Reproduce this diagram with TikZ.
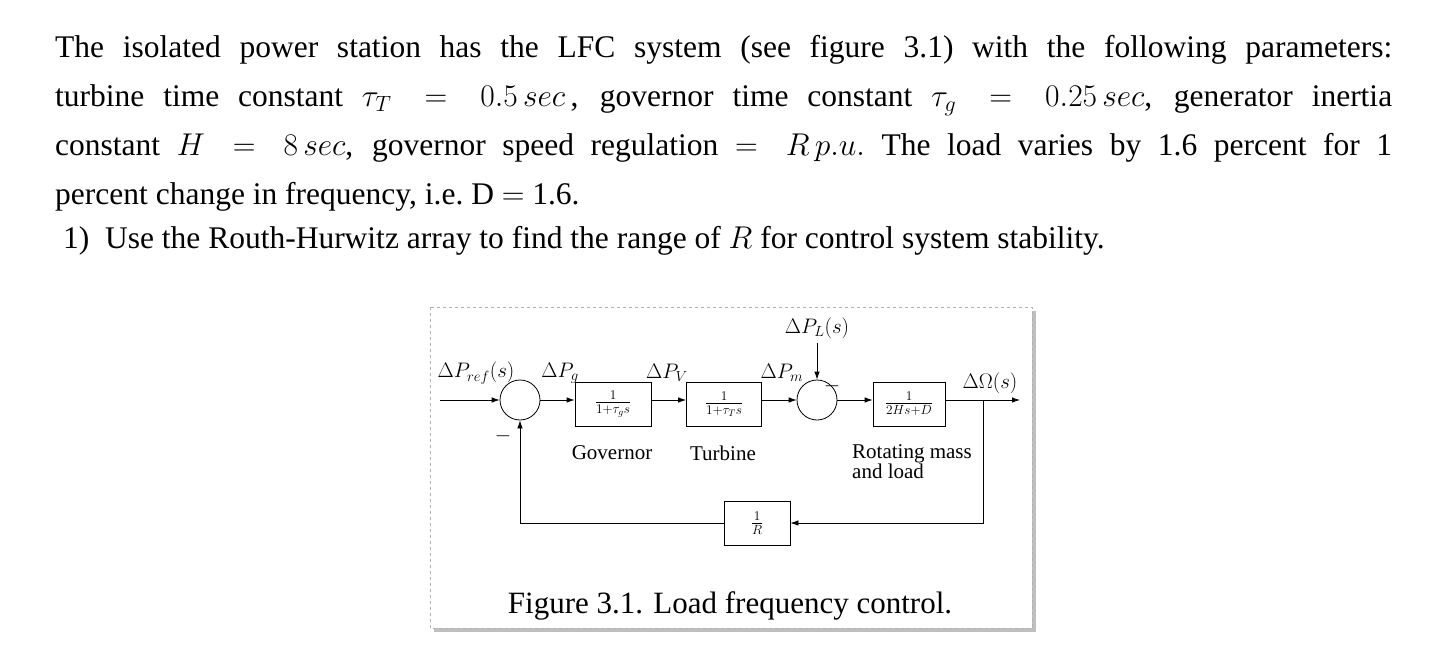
\documentclass[tikz,border=0pt]{standalone}
\usepackage{fix-cm}
\usepackage{fontspec}
\setmainfont{Liberation Serif}
\usetikzlibrary{arrows.meta}
\begin{document}
\begin{tikzpicture}[x=1pt,y=-1pt,
  blk/.style={draw,thick,minimum width=#1,minimum height=44,inner sep=0pt,font=\fontsize{19}{20}\selectfont},
  sum/.style={draw,thick,circle,minimum size=40,inner sep=0pt},
  ar/.style={thick,-{Latex[length=8,width=5.5]}},
  lbl/.style={font=\fontsize{21}{23}\selectfont}]
\useasboundingbox (0,0) rectangle (1450,668);
\node[anchor=north west,text width=1337,align=justify,inner sep=0,font=\fontsize{31.5}{49}\selectfont] (txt) at (55,35)
{The isolated power station has the LFC system (see figure 3.1) with the following parameters:\linebreak turbine time constant $\tau_T = 0.5\,sec$\,, governor time constant $\tau_g = 0.25\,sec$, generator inertia\linebreak constant $H = 8\,sec$, governor speed regulation $= R\,p.u.$ The load varies by 1.6 percent for 1\linebreak percent change in frequency, i.e.\ D $=$ 1.6.};
\node[anchor=north west,inner sep=0,font=\fontsize{31.5}{36}\selectfont] (q) at (55,226) {\ 1)\ \ Use the Routh-Hurwitz array to find the range of $R$ for control system stability.};
% frame
\fill[gray!50] (434,311) rectangle (1036,632);
\draw[gray!60,dashed,fill=white] (430,307) rectangle (1032,628);
\node[font=\fontsize{31}{34}\selectfont] (cap) at (730,606) {Figure 3.1. Load frequency control.};
% diagram
\node[sum] (s1) at (520,400) {};
\node[sum] (s2) at (817,400) {};
\node[blk=76] (gov) at (613,404) {$\frac{1}{1+\tau_g s}$};
\node[blk=75] (tur) at (724,404) {$\frac{1}{1+\tau_T s}$};
\node[blk=72] (rot) at (909,404) {$\frac{1}{2Hs+D}$};
\node[blk=66] (fb) at (757,523) {$\frac{1}{R}$};
\coordinate (in) at (440,400);
\coordinate (out) at (1020,400);
\coordinate (br) at (983,400);
\coordinate (pl) at (817,343);
\draw[ar] (in) -- (s1);
\draw[ar] (s1) -- (s1 -| gov.west);
\draw[ar] (s1 -| gov.east) -- (s1 -| tur.west);
\draw[ar] (s1 -| tur.east) -- (s2);
\draw[ar] (s2) -- (s2 -| rot.west);
\draw[ar] (s2 -| rot.east) -- (out);
\draw[ar] (pl) -- (s2);
\draw[ar] (br) |- (fb);
\draw[ar] (fb) -| (s1);
\node[lbl] (l1) at (476,373) {$\Delta P_{ref}(s)$};
\node[lbl] (l2) at (560,373) {$\Delta P_g$};
\node[lbl] (l3) at (667,373) {$\Delta P_V$};
\node[lbl] (l4) at (782,373) {$\Delta P_m$};
\node[lbl] (l5) at (817,328) {$\Delta P_L(s)$};
\node[lbl] (l6) at (990,383) {$\Delta\Omega(s)$};
\node[lbl] (m1) at (503,436) {$-$};
\node[lbl] (m2) at (832,386) {$-$};
\node[lbl] (g) at (612,453) {Governor};
\node[lbl] (t) at (723,453) {Turbine};
\node[lbl,align=left,font=\fontsize{21}{16}\selectfont] (r) at (912,462) {Rotating mass\\and load};
\end{tikzpicture}
\end{document}
